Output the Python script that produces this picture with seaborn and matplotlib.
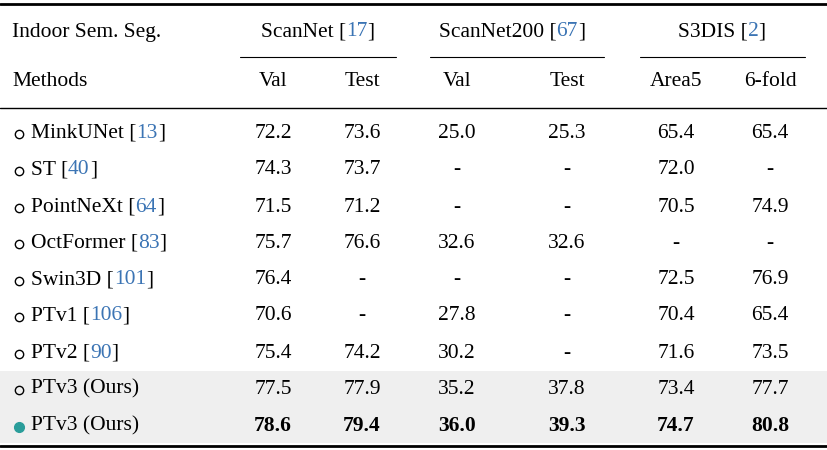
import matplotlib
matplotlib.use("Agg")
import matplotlib.pyplot as plt
import seaborn as sns

sns.set_theme(style="white")
plt.rcParams['font.family'] = ['Liberation Serif', 'DejaVu Serif', 'DejaVu Sans']

groups = [("ScanNet", "17"), ("ScanNet200", "67"), ("S3DIS", "2")]
subcols = ["Val", "Test", "Val", "Test", "Area5", "6-fold"]
methods = ["MinkUNet", "ST", "PointNeXt", "OctFormer", "Swin3D", "PTv1", "PTv2", "PTv3 (Ours)", "PTv3 (Ours)"]
cites = ["13", "40", "64", "83", "101", "106", "90", None, None]
values = [
    ["72.2", "73.6", "25.0", "25.3", "65.4", "65.4"],
    ["74.3", "73.7", "-", "-", "72.0", "-"],
    ["71.5", "71.2", "-", "-", "70.5", "74.9"],
    ["75.7", "76.6", "32.6", "32.6", "-", "-"],
    ["76.4", "-", "-", "-", "72.5", "76.9"],
    ["70.6", "-", "27.8", "-", "70.4", "65.4"],
    ["75.4", "74.2", "30.2", "-", "71.6", "73.5"],
    ["77.5", "77.9", "35.2", "37.8", "73.4", "77.7"],
    ["78.6", "79.4", "36.0", "39.3", "74.7", "80.8"],
]

W, H = 828, 450
fig = plt.figure(figsize=(W/100, H/100), dpi=100)
ax = fig.add_axes([0, 0, 1, 1])
ax.set_xlim(0, W); ax.set_ylim(H, 0); ax.axis("off")
fs = 15.5
blue = "#3b74b4"
renderer = fig.canvas.get_renderer()

def seq(x, y, parts, ha="left", weight="normal"):
    # parts: list of (text, color)
    widths = []
    objs = []
    for t, c in parts:
        o = ax.text(0, y, t, color=c, fontsize=fs, va="center", ha="left", weight=weight)
        bb = o.get_window_extent(renderer)
        widths.append(bb.width); objs.append(o)
    total = sum(widths)
    if ha == "center":
        x = x - total/2
    for o, w in zip(objs, widths):
        o.set_x(x); x += w

col_x = [273, 362, 457, 567, 676, 770]
grp_x = [318, 512, 722]
grp_rule = [(240, 396), (430, 604), (640, 805)]

# gray band
ax.add_patch(plt.Rectangle((0, 371), W, 72, color="#efefef", zorder=0, lw=0))

ax.plot([0, W], [4, 4], color="black", lw=2)
ax.plot([0, W], [108, 108], color="black", lw=1)
ax.plot([0, W], [446, 446], color="black", lw=2)
for a, b in grp_rule:
    ax.plot([a, b], [57, 57], color="black", lw=0.8)

seq(12, 32, [("Indoor Sem. Seg.", "black")])
for (g, c), gx in zip(groups, grp_x):
    seq(gx, 32, [(g + " [", "black"), (c, blue), ("]", "black")], ha="center")
seq(12, 82, [("Methods", "black")])
for s, cx in zip(subcols, col_x):
    ax.text(cx, 82, s, fontsize=fs, ha="center", va="center", color="black")

row_y = [133, 170, 207, 243, 280, 316, 353, 389, 426]
for i, (m, c, vals, y) in enumerate(zip(methods, cites, values, row_y)):
    if i == len(methods) - 1:
        ax.plot([19], [y + 1], "o", color="#2a9d9a", ms=7)
    else:
        ax.plot([19], [y + 1], "o", mfc="none", mec="black", ms=6, mew=1)
    parts = [(m + (" [" if c else ""), "black")]
    if c:
        parts += [(c, blue), ("]", "black")]
    seq(31, y, parts)
    w = "bold" if i == len(methods) - 1 else "normal"
    for v, cx in zip(vals, col_x):
        ax.text(cx, y, v, fontsize=fs, ha="center", va="center", color="black", weight=w)

fig.savefig("out.png", dpi=100)
